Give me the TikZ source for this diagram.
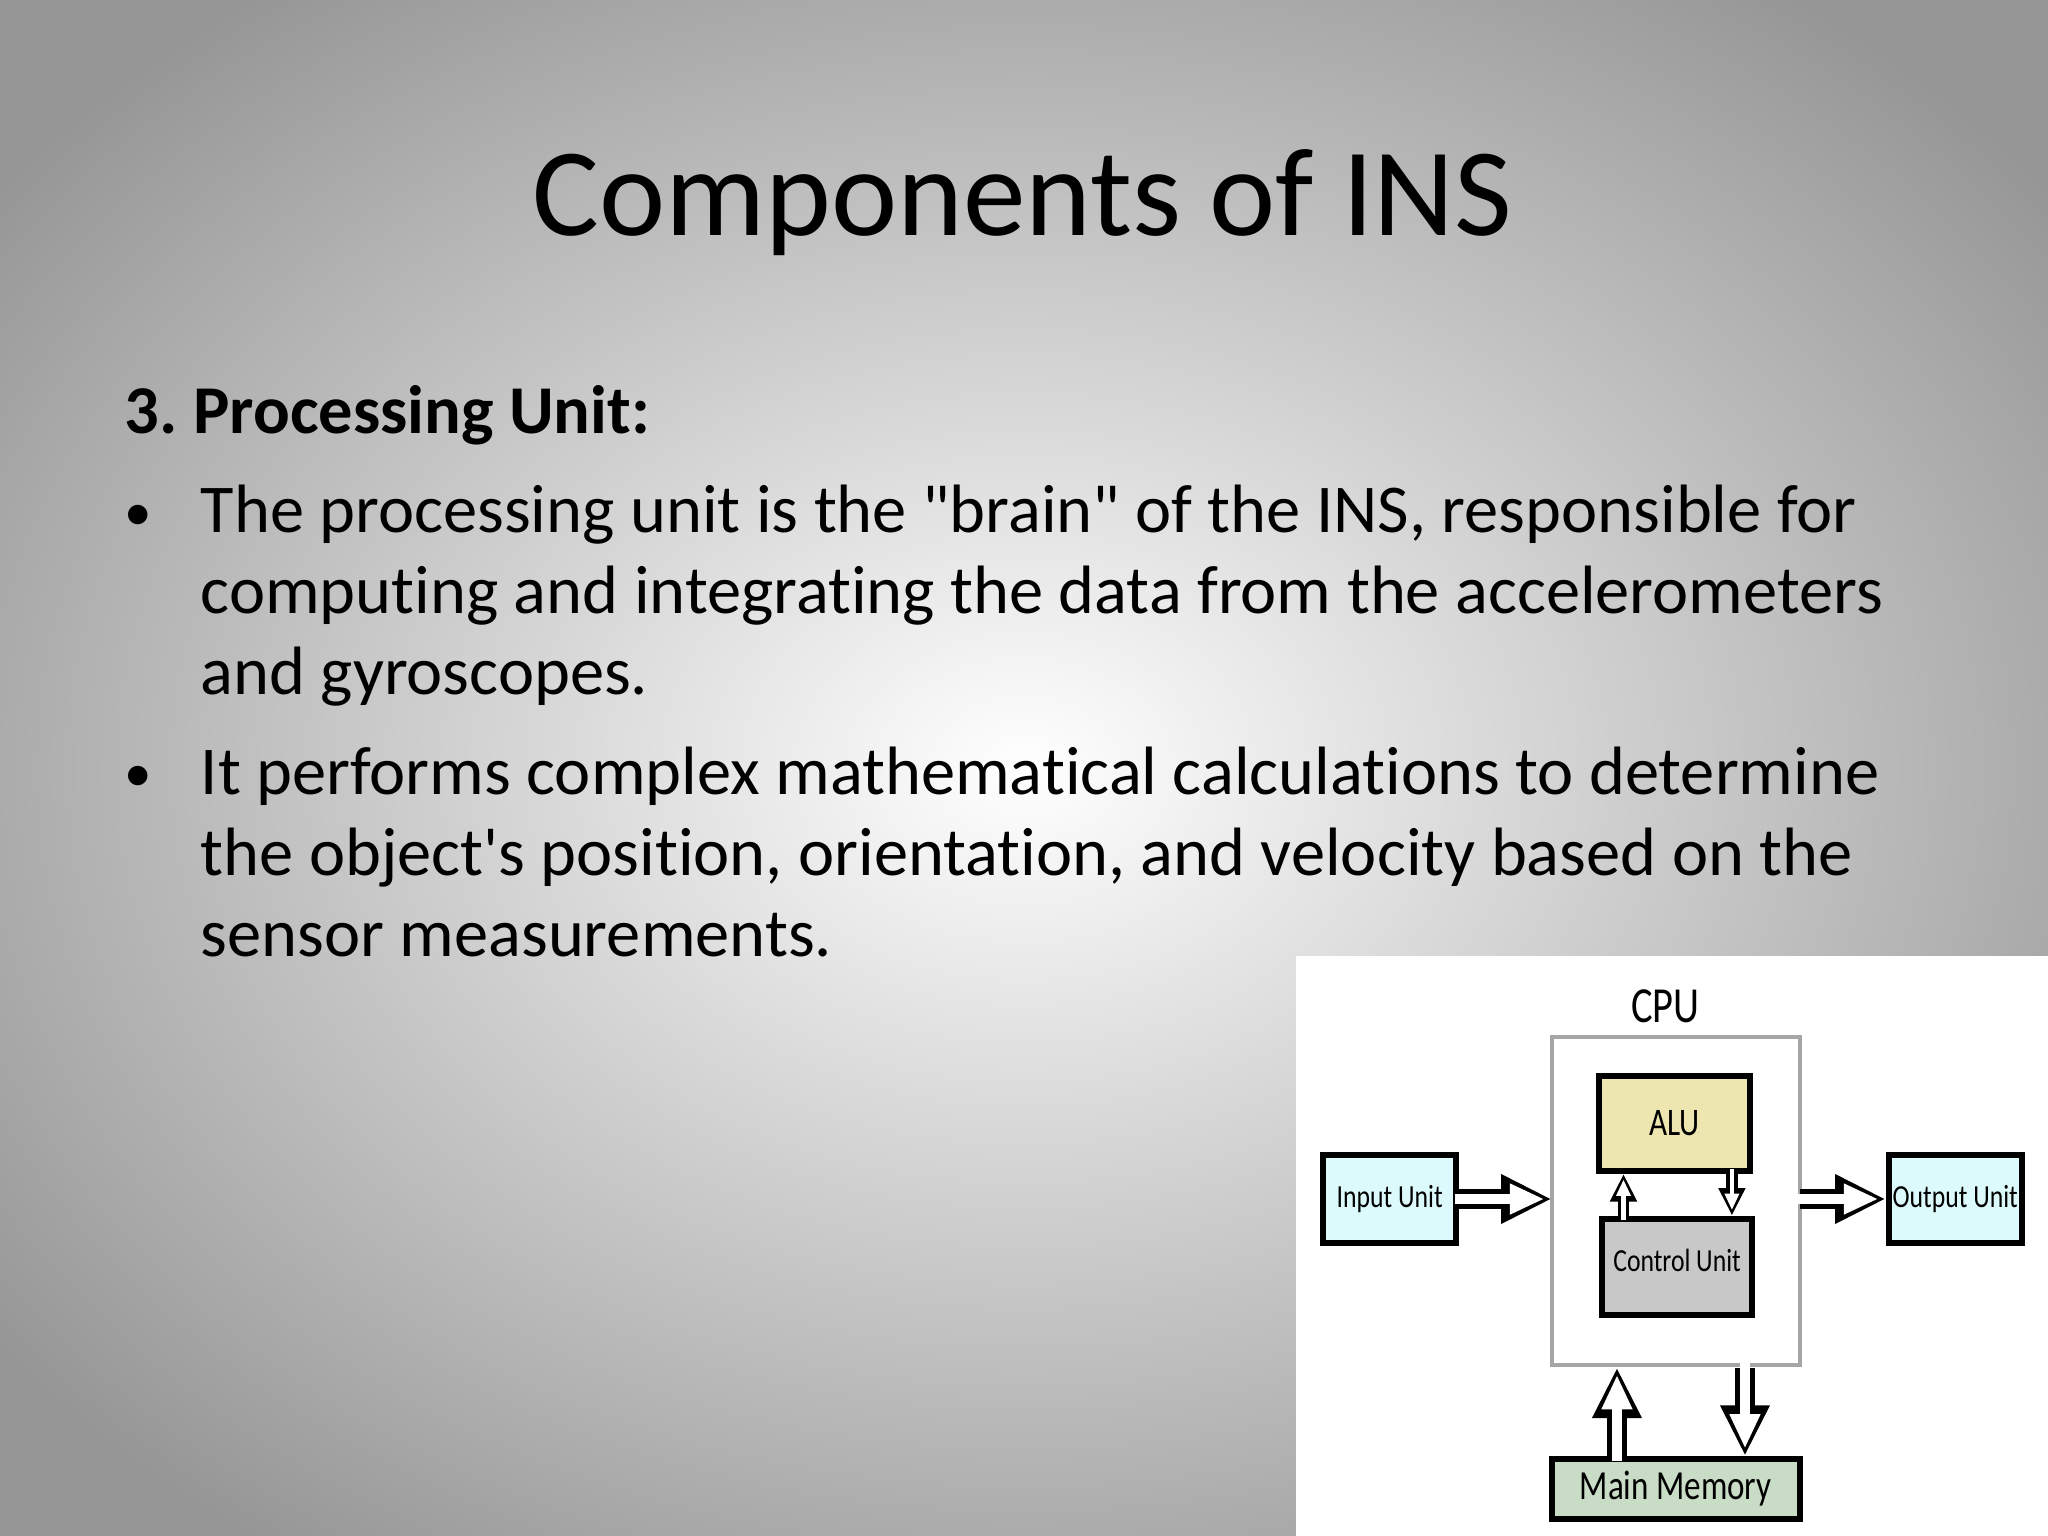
\documentclass[tikz,border=0pt]{standalone}
\usepackage{fontspec}
\setmainfont{Carlito}[Ligatures=NoCommon]
\usetikzlibrary{arrows.meta}
\frenchspacing
\newcommand\sq[1]{\scalebox{0.8}[1]{#1}}
\newcommand\dq{\XeTeXglyph\the\XeTeXcharglyph"22\relax}
\newcommand\apos{\XeTeXglyph\the\XeTeXcharglyph"27\relax}
\begin{document}
\begin{tikzpicture}[x=0.01cm,y=-0.01cm,
  line/.style={anchor=base west,inner sep=0pt,font=\fontsize{14.9}{18}\selectfont},
  box/.style={draw=black,line width=1.3pt,minimum width=#1*0.01cm,inner sep=0pt,font=\fontsize{7}{8}\selectfont},
  blkout/.style={draw=black,line width=4.2pt,-{Triangle[length=11pt,width=10pt]}},
  blkin/.style={draw=white,line width=2.2pt,-{Triangle[length=7.5pt,width=6.2pt]},shorten >=1.6pt,shorten <=-1pt},
  sout/.style={draw=black,line width=2.6pt,-{Triangle[length=6pt,width=5.5pt]}},
  sin/.style={draw=white,line width=1pt,-{Triangle[length=3.6pt,width=3pt]},shorten >=1.2pt,shorten <=-1pt}]
\useasboundingbox (0,0) rectangle (1568,1176);
\shade[inner color=white,outer color={rgb,255:red,150;green,150;blue,150}] (-200,-150) rectangle (1768,1326);
\node[anchor=base,inner sep=0pt,font=\fontsize{27.3}{33}\selectfont] (title) at (783,180) {Components of INS};
\node[line,font=\fontsize{14.9}{18}\bfseries\selectfont] (h) at (95,332) {3. Processing Unit:};
\node[line,font=\fontsize{12}{14}\selectfont] (b1) at (95,406) {•};
\node[line] (l1) at (153,408) {The processing unit is the \dq brain\dq\ of the INS, responsible for};
\node[line] (l2) at (153,470) {computing and integrating the data from the accelerometers};
\node[line] (l3) at (153,532) {and gyroscopes.};
\node[line,font=\fontsize{12}{14}\selectfont] (b2) at (95,606) {•};
\node[line] (l4) at (153,608) {It performs complex mathematical calculations to determine};
\node[line] (l5) at (153,670) {the object\apos s position, orientation, and velocity based on the};
\node[line] (l6) at (153,732) {sensor measurements.};
% diagram
\fill[white] (992,732) rectangle (1568,1176);
\node[anchor=base,font=\fontsize{11}{13}\selectfont] (cpul) at (1275,783) {\sq{CPU}};
\draw[gray!70,line width=0.8pt] (1188,794) rectangle (1378,1045);
\node[box=115,fill={rgb,255:red,238;green,230;blue,176},minimum height=0.73cm,font=\fontsize{8.5}{10}\selectfont] (alu) at (1282,860) {\sq{ALU}};
\node[box=115,fill={rgb,255:red,200;green,200;blue,200},minimum height=0.74cm] (cu) at (1284,970) {\raisebox{0.1cm}{\sq{Control Unit}}};
\node[box=102,fill={rgb,255:red,220;green,250;blue,252},minimum height=0.68cm] (in) at (1064,918) {\sq{Input Unit}};
\node[box=102,fill={rgb,255:red,220;green,250;blue,252},minimum height=0.68cm] (out) at (1497,918) {\sq{Output Unit}};
\node[box=190,fill={rgb,255:red,200;green,220;blue,198},minimum height=0.46cm,font=\fontsize{9}{11}\selectfont] (mem) at (1283,1140) {\sq{Main Memory}};
\coordinate (cpuw) at (1188,918);
\coordinate (cpue) at (1378,918);
\coordinate (cpub1) at (1238,1047);
\coordinate (cpub2) at (1336,1047);
\draw[blkout] (in.east) -- (cpuw); \draw[blkin] (in.east) -- (cpuw);
\draw[blkout] (cpue) -- (out.west); \draw[blkin] (cpue) -- (out.west);
\draw[blkout] (mem.north -| cpub1) -- (cpub1); \draw[blkin] (mem.north -| cpub1) -- (cpub1);
\draw[blkout] (cpub2) -- (mem.north -| cpub2); \draw[blkin] (cpub2) -- (mem.north -| cpub2);
\draw[sout] (cu.north -| 1243,0) -- (alu.south -| 1243,0); \draw[sin] (cu.north -| 1243,0) -- (alu.south -| 1243,0);
\draw[sout] (alu.south -| 1326,0) -- (cu.north -| 1326,0); \draw[sin] (alu.south -| 1326,0) -- (cu.north -| 1326,0);
\end{tikzpicture}
\end{document}
